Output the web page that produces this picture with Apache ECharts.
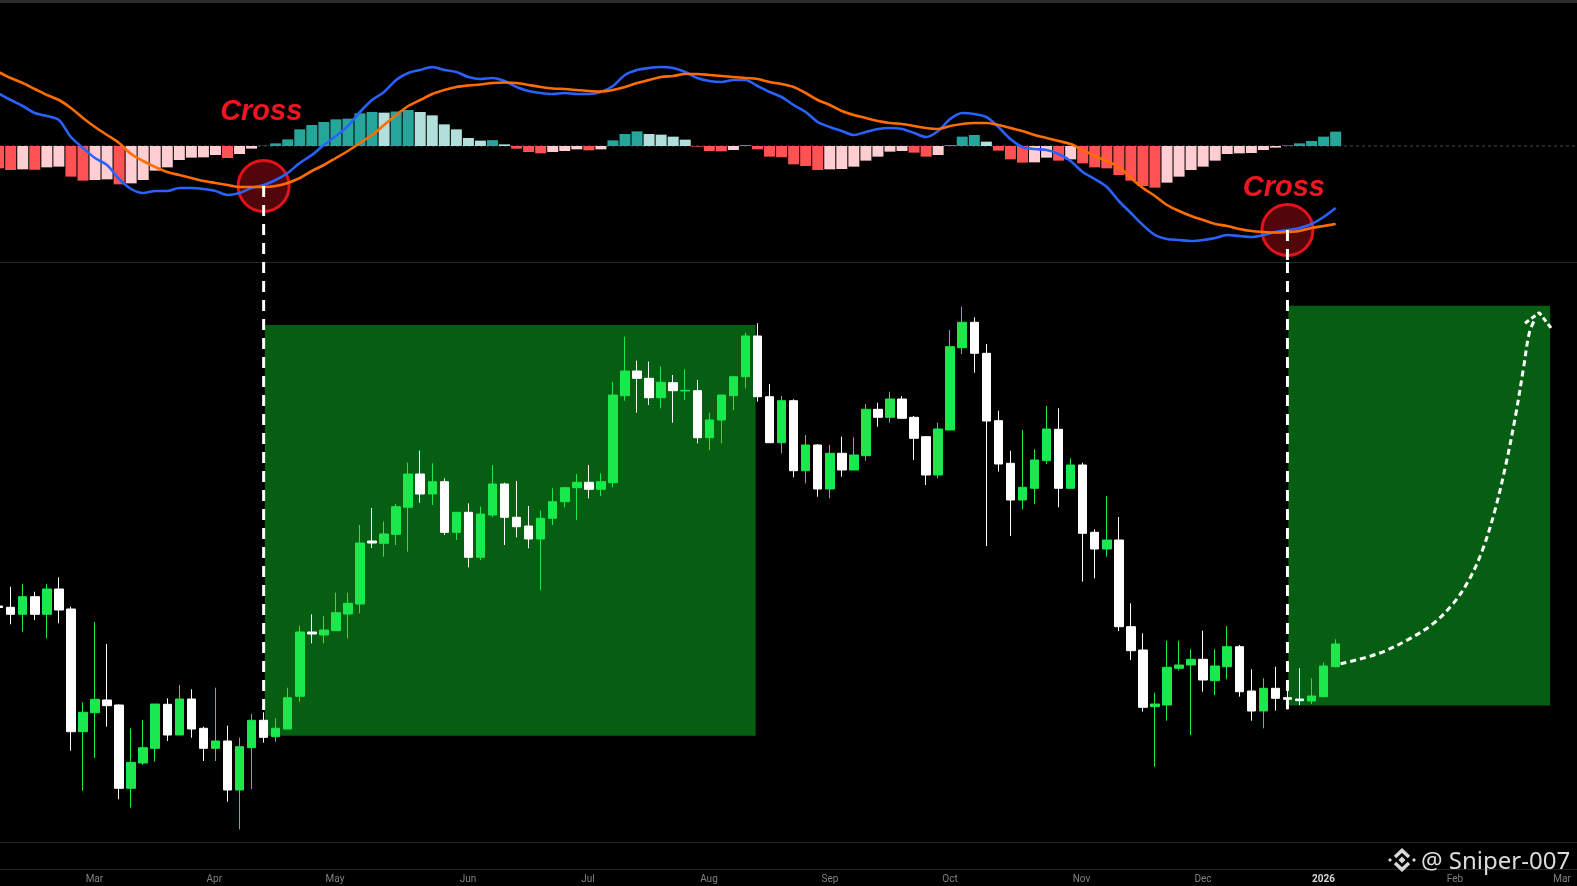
<!DOCTYPE html>
<html><head><meta charset="utf-8">
<script src="https://cdn.jsdelivr.net/npm/echarts@6/dist/echarts.min.js"></script>
<style>html,body{margin:0;padding:0;background:#000;}#c{width:1577px;height:886px;}</style>
</head><body><div id="c"></div><script>
// candle index of the first row (3-day candles, index 0 = first fully visible candle)
const FIRST = -1;
// [open, close, low, high]
const ohlc = [
[96200,96050,95600,96700],[96070,95370,94370,98130],[95370,97130,93630,98400],[97130,95370,94800,97630],[95370,97900,92970,98400],
[97900,95800,94470,99070],[95900,83630,81730,96130],[83630,85570,77730,86570],[85530,86870,81000,94600],[86800,86230,84130,92400],
[86300,77970,76870,86370],[77970,80570,76030,83970],[80500,82030,80300,84800],[81970,86400,80630,86400],[86370,83300,82700,86970],
[83300,86900,83300,88300],[86900,83900,83030,87870],[83970,81970,80700,84130],[81970,82700,80700,88030],[82700,77800,76630,84230],
[77800,82130,73870,83030],[82030,84770,77870,85400],[84770,83070,82530,85570],[83130,83970,82630,84970],[83900,87030,83900,88030],
[87170,93600,86630,94200],[93600,93400,92470,95370],[93300,93800,92470,95200],[93730,95530,93730,97530],[95400,96470,92970,97530],
[96400,102500,95470,104300],[102700,102500,102000,106000],[102470,103400,101130,104630],[103370,106130,102300,106400],[106070,109400,101630,110530],
[109400,107400,106530,111730],[107400,108630,106300,110470],[108630,103570,103300,108970],[103570,105570,102800,105570],[105570,101070,100070,106470],
[101070,105400,100800,106130],[105300,108400,105070,110300],[108400,105070,102300,108530],[105070,104130,103070,108700],[104200,102900,101970,106200],
[102900,104970,97800,105730],[104970,106630,104300,107970],[106630,108030,106070,108130],[108030,108570,104800,109400],[108570,107870,106970,110300],
[107870,108630,107200,109470],[108530,117300,108070,118630],[117230,119700,116730,123130],[119700,118970,115530,120730],[118970,117030,116300,120630],
[117030,118570,115970,120130],[118530,117730,114530,119300],[117700,117770,116800,119870],[117730,113030,112470,118800],[113030,114800,111800,115530],
[114800,117300,112470,117300],[117230,119130,115800,119130],[119130,123200,117970,123530],[123200,117130,116630,124470],[117130,112530,112530,118400],
[112530,116730,111470,117200],[116730,109730,109070,116870],[109730,112300,108470,113300],[112300,107900,107130,112400],[107900,111470,106970,112300],
[111470,109800,109130,113130],[109800,111300,109800,113070],[111230,115870,110730,116400],[115870,115070,114130,116530],[115070,116900,114530,117630],
[116900,114970,114970,117200],[115070,112970,110800,115200],[113130,109300,108300,113200],[109300,113900,108970,114530],[113800,122130,113800,123800],
[122030,124570,121400,126130],[124570,121470,119530,125070],[121470,114700,102200,122400],[114730,110400,109630,115730],[110470,106800,103200,111730],
[106800,108070,105870,113800],[107970,110800,106400,111870],[110730,113900,110400,116200],[113870,107970,106070,115970],[107970,110300,107970,110970],
[110300,103470,98630,110530],[103570,101900,98970,103870],[101900,102800,101130,107200],[102800,94130,93700,105100],[94130,91730,90800,96470],
[91800,86070,85630,93470],[86130,86400,80130,87530],[86300,90070,84730,92730],[89970,90300,89730,92730],[90300,90870,83300,91870],
[90870,88800,87630,93730],[88730,90200,87300,91870],[90130,92130,88870,94200],[92130,87630,87130,92300],[87700,85700,84730,89870],
[85700,87970,83970,88970],[87970,86970,85730,90130],[87030,86870,85870,88130],[86900,86730,86300,89970],[86700,87200,86400,88970],
[87130,90200,87070,90530],[90130,92400,90070,92870]
];
// MACD indicator values (same candle indices)
const histogram = [
-447,-480,-467,-475,-427,-413,-613,-693,-680,-667,
-767,-747,-680,-493,-427,-280,-233,-227,-180,-240,
-160,-53,5,53,133,333,420,480,533,547,
653,680,667,690,720,680,613,433,333,160,
107,117,33,-53,-120,-147,-120,-100,-67,-87,
-67,113,240,293,240,227,187,127,-13,-100,
-107,-80,20,-67,-213,-225,-367,-400,-480,-467,
-460,-413,-293,-213,-113,-100,-133,-213,-180,20,
187,220,87,-93,-267,-333,-327,-233,-293,-267,
-347,-427,-447,-580,-693,-800,-833,-733,-613,-480,
-413,-293,-160,-147,-140,-80,-33,13,53,100,
187,287];
const macdLine = [
1050,920,800,660,600,520,180,-40,-240,-380,
-660,-860,-940,-900,-900,-840,-840,-860,-900,-980,
-940,-840,-780,-680,-540,-340,-180,20,200,400,
680,920,1080,1320,1460,1520,1580,1520,1480,1380,
1340,1360,1300,1180,1100,1060,1040,1060,1040,1040,
1080,1200,1420,1520,1560,1580,1560,1480,1360,1300,
1280,1320,1320,1200,1080,980,820,680,480,380,
300,220,280,340,360,340,260,180,300,540,
660,640,580,380,140,-20,-60,-80,-160,-300,
-520,-660,-820,-1100,-1340,-1580,-1780,-1860,-1880,-1900,
-1880,-1840,-1780,-1800,-1820,-1780,-1720,-1680,-1640,-1560,
-1420,-1240];
const signalLine = [
1480,1360,1260,1140,1020,920,760,560,380,220,
60,-160,-300,-420,-520,-580,-640,-700,-740,-780,
-820,-820,-820,-800,-740,-640,-500,-380,-240,-100,
60,220,420,620,800,920,1040,1120,1180,1210,
1230,1260,1270,1260,1220,1180,1150,1140,1120,1100,
1090,1120,1180,1260,1320,1380,1400,1440,1440,1420,
1400,1380,1360,1340,1280,1240,1180,1060,920,820,
700,620,560,500,460,440,400,360,340,400,
440,460,460,420,360,300,220,160,100,40,
-80,-200,-300,-420,-640,-840,-1000,-1180,-1300,-1400,
-1480,-1560,-1600,-1660,-1700,-1720,-1730,-1720,-1700,-1640,
-1600,-1560];
// time axis labels (positions in candle-index units)
const monthTicks  = [6.95,16.9,26.92,37.97,47.93,57.97,68.02,77.98,88.9,98.99,109.0,119.9,128.8];
const monthLabels = ['Mar','Apr','May','Jun','Jul','Aug','Sep','Oct','Nov','Dec','2026','Feb','Mar'];
// annotations
const crossPoints = [[21,-800],[106,-1680]];
const crossTexts  = [[20.8,690],[105.7,-830]];
const zones = [[21.1,61.85,83230,124300],[106.07,127.8,86250,126230]]; // [x0,x1,low,high]
const projection = [[110.41,90420],[113.51,91430],[116.01,92840],[118.1,94440],[119.77,96460],[121.1,98870],[122.19,101790],[123.19,105610],[124.11,110230],[124.94,115260],[125.61,120090],[126.1,123610],[126.62,125020]];
const arrowHead = [[125.72,124470],[126.9,125530],[128.02,123800]];

const xMin = -0.888, xMax = 130.038;
const macdMin = -2320, macdMax = 2860;
const priceMin = 72600, priceMax = 130600;

const C = {growAbove:'#26a69a', fallAbove:'#b2dfdb', growBelow:'#ffcdd2', fallBelow:'#ff5252'};
function histColor(i){
  const v = histogram[i], p = i > 0 ? histogram[i-1] : null;
  if (v >= 0) return (p === null || v >= p) ? C.growAbove : C.fallAbove;
  return (p !== null && v > p) ? C.growBelow : C.fallBelow;
}
const idx = i => i + FIRST;
const candleData = ohlc.map((r,i)=>[idx(i), r[0], r[1], r[2], r[3]]);
const histData = histogram.map((v,i)=>({value:[idx(i), v], itemStyle:{color:histColor(i)}}));
const macdData = macdLine.map((v,i)=>[idx(i), v]);
const sigData = signalLine.map((v,i)=>[idx(i), v]);

const k1 = crossPoints[0][0], k2 = crossPoints[1][0];
const drop1End = ohlc[k1 - FIRST][3];   // high of the candle under the first cross
const drop2End = ohlc[k2 - FIRST][2];   // low of the candle under the second cross

const dashStyle = {color:'#ffffff', width:3, type:[11,8]};
function seg(data, gi, z){
  return {type:'line', xAxisIndex:gi, yAxisIndex:gi, data, symbol:'none', silent:true, z, lineStyle:dashStyle, animation:false};
}

const chart = echarts.init(document.getElementById('c'), null, {renderer:'canvas'});
chart.setOption({
  backgroundColor:'#000000',
  animation:false,
  grid:[
    {left:0, right:0, top:3, height:259, outerBoundsMode:'none'},
    {left:0, right:0, top:262, height:580, outerBoundsMode:'none'}
  ],
  xAxis:[
    {type:'value', gridIndex:0, min:xMin, max:xMax, show:false},
    {type:'value', gridIndex:1, min:xMin, max:xMax,
     axisLine:{show:false}, axisTick:{show:false}, splitLine:{show:false},
     axisLabel:{
       customValues: monthTicks, margin:32, color:'#808080', fontSize:10, fontFamily:'Roboto',
       formatter: function(v){
         const i = monthTicks.findIndex(t => Math.abs(t - v) < 1e-6);
         const s = i >= 0 ? monthLabels[i] : '';
         return s === '2026' ? '{y|2026}' : s;
       },
       rich:{y:{fontWeight:'bold', color:'#d6d6d6', fontSize:10, fontFamily:'Roboto'}}
     }}
  ],
  yAxis:[
    {type:'value', gridIndex:0, min:macdMin, max:macdMax, show:false, splitLine:{show:false}},
    {type:'value', gridIndex:1, min:priceMin, max:priceMax, show:false, splitLine:{show:false}}
  ],
  series:[
    {type:'line', xAxisIndex:0, yAxisIndex:0, data:[[xMin,0],[xMax,0]], symbol:'none', silent:true, z:1,
     lineStyle:{color:'#4a4a4a', width:1, type:[3,3]}},
    {type:'bar', xAxisIndex:0, yAxisIndex:0, data:histData, barWidth:11, z:2, silent:true},
    {type:'scatter', xAxisIndex:0, yAxisIndex:0, data:crossPoints, symbolSize:51, z:3, silent:true,
     itemStyle:{color:'rgba(88,6,10,0.92)', borderColor:'#e3121c', borderWidth:3, opacity:1}},
    {type:'line', xAxisIndex:0, yAxisIndex:0, data:macdData, symbol:'none', smooth:0.3, z:4, silent:true,
     lineStyle:{color:'#2962ff', width:2.6}},
    {type:'line', xAxisIndex:0, yAxisIndex:0, data:sigData, symbol:'none', smooth:0.3, z:4, silent:true,
     lineStyle:{color:'#ff6d00', width:2.6}},
    seg([[k1, crossPoints[0][1]],[k1, macdMin]], 0, 6),
    seg([[k2, crossPoints[1][1]],[k2, macdMin]], 0, 6),
    {type:'scatter', xAxisIndex:0, yAxisIndex:0, data:crossTexts, symbolSize:0, z:7, silent:true,
     itemStyle:{color:'#ec1420', opacity:1},
     label:{show:true, position:'inside', formatter:'Cross', color:'#f01521', fontSize:29, opacity:1,
            textBorderWidth:0, textBorderColor:'transparent',
            fontWeight:'bold', fontStyle:'italic', fontFamily:'Liberation Sans'}},
    {type:'candlestick', xAxisIndex:1, yAxisIndex:1, data:candleData, barWidth:9, z:3, silent:true,
     itemStyle:{color:'#1ae84c', color0:'#ffffff', borderColor:'#1ae84c', borderColor0:'#ffffff', borderWidth:1},
     markArea:{silent:true, itemStyle:{color:'#055e12'},
       data: zones.map(z=>[{xAxis:z[0], yAxis:z[3]},{xAxis:z[1], yAxis:z[2]}])}},
    seg([[k1, priceMax],[k1, drop1End]], 1, 6),
    seg([[k2, priceMax],[k2, drop2End]], 1, 6),
    {type:'line', xAxisIndex:1, yAxisIndex:1, data:projection, symbol:'none', smooth:0.35, z:6, silent:true,
     lineStyle:{color:'#ffffff', width:3, type:[6,4]}},
    {type:'line', xAxisIndex:1, yAxisIndex:1, data:arrowHead, symbol:'none', z:6, silent:true,
     lineStyle:{color:'#ffffff', width:3, type:[5,3]}}
  ],
  graphic:[
    {type:'rect', silent:true, shape:{x:0,y:0,width:1577,height:3}, style:{fill:'#2c2c2e'}},
    {type:'rect', silent:true, shape:{x:0,y:262,width:1577,height:1}, style:{fill:'#262626'}},
    {type:'rect', silent:true, shape:{x:0,y:842,width:1577,height:1}, style:{fill:'#262626'}},
    {type:'rect', silent:true, shape:{x:0,y:869,width:1577,height:1}, style:{fill:'#262626'}},
    {type:'polyline', silent:true, shape:{points:[[1395,857],[1402,850.5],[1409,857]]}, style:{stroke:'#d8d8d8', lineWidth:3.5, fill:null}},
    {type:'polyline', silent:true, shape:{points:[[1395,863],[1402,869.5],[1409,863]]}, style:{stroke:'#d8d8d8', lineWidth:3.5, fill:null}},
    {type:'polygon', silent:true, shape:{points:[[1402,856.5],[1405.5,860],[1402,863.5],[1398.5,860]]}, style:{fill:'#d8d8d8'}},
    {type:'polygon', silent:true, shape:{points:[[1390,858],[1392,860],[1390,862],[1388,860]]}, style:{fill:'#d8d8d8'}},
    {type:'polygon', silent:true, shape:{points:[[1414,858],[1416,860],[1414,862],[1412,860]]}, style:{fill:'#d8d8d8'}},
    {type:'text', silent:true, x:1421, y:862, style:{text:'@ Sniper-007', fill:'#dcdcdc', font:'24px "Noto Sans"', verticalAlign:'middle', align:'left'}}
  ]
});
</script></body></html>
